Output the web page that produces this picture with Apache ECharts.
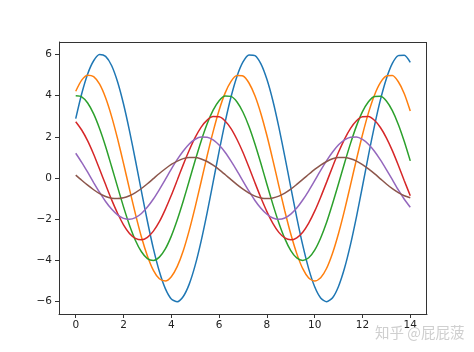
<!DOCTYPE html>
<html>
<head>
<meta charset="utf-8">
<script src="https://cdn.jsdelivr.net/npm/echarts@6/dist/echarts.min.js"></script>
<style>html,body{margin:0;padding:0;background:#fff}#c{width:474px;height:352px}</style>
</head>
<body>
<div id="c"></div>
<script>
const xValues = [0,0.25,0.5,0.75,1,1.25,1.5,1.75,2,2.25,2.5,2.75,3,3.25,3.5,3.75,4,4.25,4.5,4.75,5,5.25,5.5,5.75,6,6.25,6.5,6.75,7,7.25,7.5,7.75,8,8.25,8.5,8.75,9,9.25,9.5,9.75,10,10.25,10.5,10.75,11,11.25,11.5,11.75,12,12.25,12.5,12.75,13,13.25,13.5,13.75,14];
const s1 = [2.88,4.09,5.05,5.69,5.99,5.90,5.46,4.67,3.59,2.29,0.85,-0.65,-2.10,-3.43,-4.54,-5.37,-5.87,-6.00,-5.75,-5.15,-4.23,-3.05,-1.68,-0.20,1.29,2.70,3.94,4.94,5.63,5.97,5.94,5.54,4.79,3.75,2.47,1.04,-0.45,-1.92,-3.26,-4.41,-5.28,-5.82,-6.00,-5.81,-5.25,-4.37,-3.22,-1.87,-0.40,1.10,2.52,3.79,4.82,5.56,5.94,5.96,5.61];
const s2 = [4.21,4.75,4.99,4.92,4.55,3.89,2.99,1.91,0.71,-0.54,-1.75,-2.86,-3.78,-4.48,-4.89,-5.00,-4.79,-4.29,-3.53,-2.54,-1.40,-0.17,1.08,2.25,3.29,4.12,4.69,4.97,4.95,4.61,3.99,3.12,2.06,0.87,-0.38,-1.60,-2.72,-3.67,-4.40,-4.85,-5.00,-4.84,-4.38,-3.64,-2.68,-1.56,-0.33,0.91,2.10,3.16,4.02,4.63,4.95,4.97,4.67,4.09,3.25];
const s3 = [3.99,3.94,3.64,3.11,2.39,1.53,0.56,-0.43,-1.40,-2.29,-3.03,-3.58,-3.91,-4.00,-3.84,-3.44,-2.82,-2.03,-1.12,-0.13,0.86,1.80,2.63,3.29,3.75,3.98,3.96,3.69,3.19,2.50,1.65,0.70,-0.30,-1.28,-2.18,-2.94,-3.52,-3.88,-4.00,-3.87,-3.50,-2.91,-2.15,-1.24,-0.27,0.73,1.68,2.53,3.22,3.70,3.96,3.97,3.74,3.27,2.60,1.77,0.83];
const s4 = [2.73,2.33,1.80,1.15,0.42,-0.32,-1.05,-1.71,-2.27,-2.69,-2.93,-3.00,-2.88,-2.58,-2.12,-1.52,-0.84,-0.10,0.65,1.35,1.97,2.47,2.81,2.98,2.97,2.77,2.40,1.87,1.24,0.52,-0.23,-0.96,-1.63,-2.20,-2.64,-2.91,-3.00,-2.90,-2.63,-2.19,-1.61,-0.93,-0.20,0.55,1.26,1.89,2.41,2.78,2.97,2.98,2.80,2.45,1.95,1.33,0.62,-0.13,-0.86];
const s5 = [1.20,0.76,0.28,-0.22,-0.70,-1.14,-1.51,-1.79,-1.96,-2.00,-1.92,-1.72,-1.41,-1.02,-0.56,-0.07,0.43,0.90,1.31,1.65,1.88,1.99,1.98,1.85,1.60,1.25,0.82,0.35,-0.15,-0.64,-1.09,-1.47,-1.76,-1.94,-2.00,-1.94,-1.75,-1.46,-1.07,-0.62,-0.13,0.37,0.84,1.26,1.61,1.85,1.98,1.99,1.87,1.64,1.30,0.88,0.41,-0.08,-0.58,-1.03,-1.42];
const s6 = [0.14,-0.11,-0.35,-0.57,-0.76,-0.90,-0.98,-1.00,-0.96,-0.86,-0.71,-0.51,-0.28,-0.03,0.22,0.45,0.66,0.82,0.94,0.99,0.99,0.92,0.80,0.62,0.41,0.17,-0.08,-0.32,-0.54,-0.73,-0.88,-0.97,-1.00,-0.97,-0.88,-0.73,-0.54,-0.31,-0.07,0.18,0.42,0.63,0.80,0.93,0.99,0.99,0.93,0.82,0.65,0.44,0.21,-0.04,-0.29,-0.52,-0.71,-0.86,-0.96];
const xTicks = [0,2,4,6,8,10,12,14];
const yTicks = [-6,-4,-2,0,2,4,6];
const watermark = '知乎 @屁屁菠';

const colors = ['#1f77b4','#ff7f0e','#2ca02c','#d62728','#9467bd','#8c564b'];
const allSeries = [s1,s2,s3,s4,s5,s6];
const fmt = v => String(v).replace('-', '\u2212');
const font = 'DejaVu Sans';

const chart = echarts.init(document.getElementById('c'), null, {renderer:'canvas'});
chart.setOption({
  animation: false,
  backgroundColor: '#fff',
  grid: {left: 59, right: 47, top: 42, bottom: 38, containLabel: false, show: false},
  xAxis: {
    type: 'value', min: -0.7, max: 14.7,
    splitLine: {show: false},
    axisLine: {show: true, onZero: false, lineStyle: {color: '#333', width: 1}},
    axisTick: {show: true, length: 4, customValues: xTicks, lineStyle: {color: '#333'}},
    axisLabel: {customValues: xTicks, formatter: fmt, color: '#222', fontSize: 10.5, fontFamily: font, margin: 6}
  },
  yAxis: {
    type: 'value', min: -6.6, max: 6.6,
    splitLine: {show: false},
    axisLine: {show: true, onZero: false, lineStyle: {color: '#333', width: 1}},
    axisTick: {show: true, length: 4, customValues: yTicks, lineStyle: {color: '#333'}},
    axisLabel: {customValues: yTicks, formatter: fmt, color: '#222', fontSize: 10.5, fontFamily: font, margin: 7}
  },
  series: allSeries.map((s, i) => ({
    type: 'line',
    data: xValues.map((x, j) => [x, s[j]]),
    smooth: 0.25,
    showSymbol: false,
    lineStyle: {color: colors[i], width: 1.5},
    itemStyle: {color: colors[i]},
    z: 2 + i
  })),
  graphic: [
    {type: 'line', shape: {x1: 59, y1: 42.5, x2: 427, y2: 42.5}, style: {stroke: '#333', lineWidth: 1}, z: 100},
    {type: 'line', shape: {x1: 426.5, y1: 42, x2: 426.5, y2: 314}, style: {stroke: '#333', lineWidth: 1}, z: 100},
    {type: 'text', left: 375, top: 325, style: {text: watermark, fill: '#cfcfcf', fontSize: 14.5, fontFamily: 'Noto Sans CJK SC'}, z: 100}
  ]
});
</script>
</body>
</html>
